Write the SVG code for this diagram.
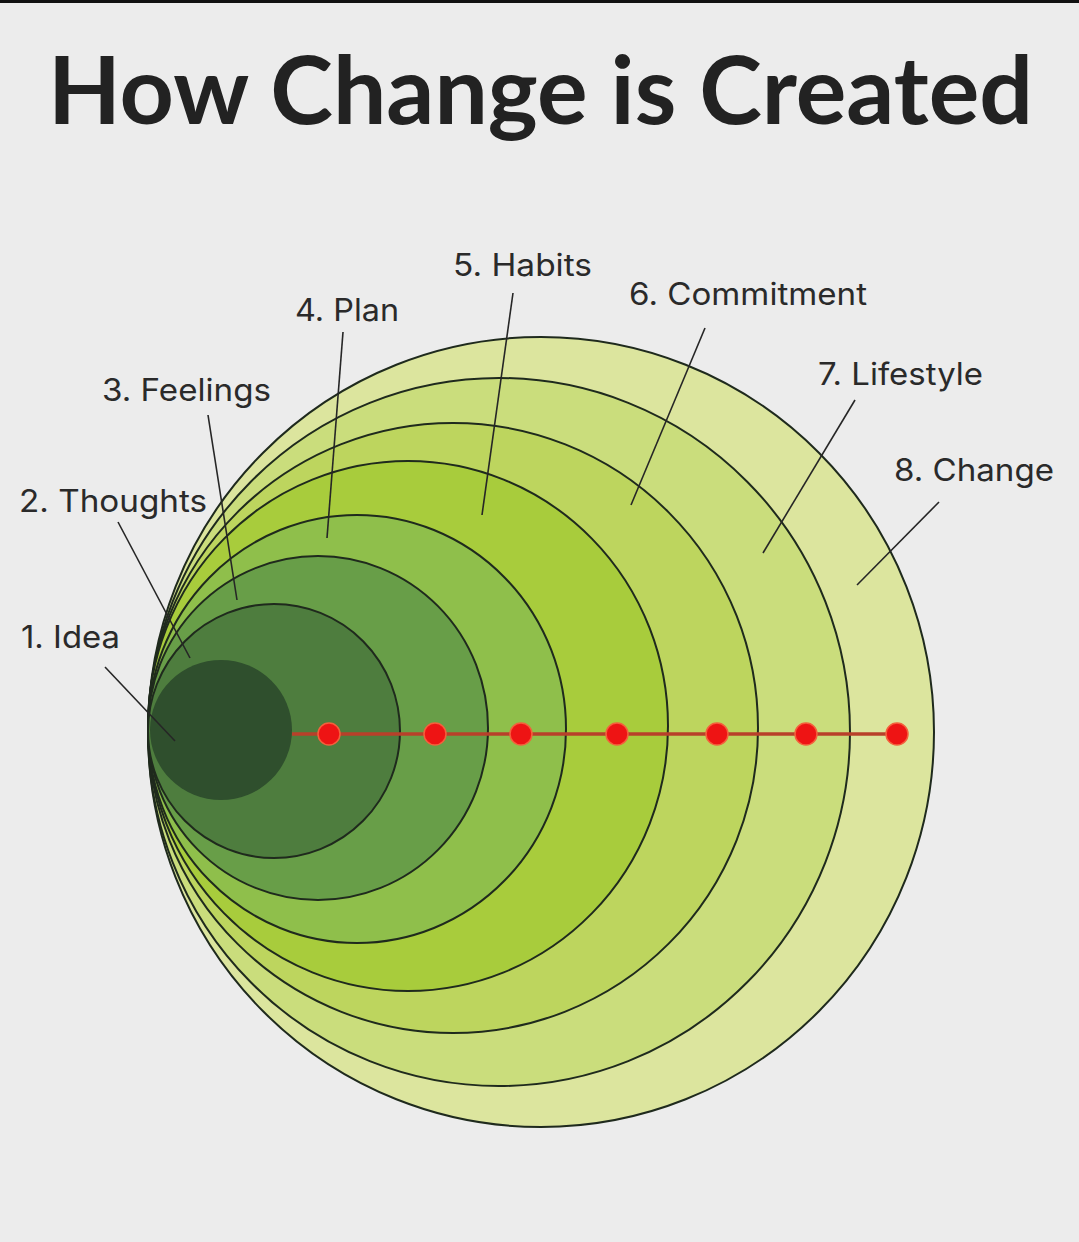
<svg xmlns="http://www.w3.org/2000/svg" width="1079" height="1242" viewBox="0 0 1079 1242">
  <style>
    .ring { stroke: #1f2a1d; stroke-width: 2; }
    .lbl { font-family: Inter, "Liberation Sans", sans-serif; font-size: 31px; fill: #2a2a2a; }
    .title { font-family: Lato, "Open Sans", "Liberation Sans", sans-serif; font-weight: 700; font-size: 94px; fill: #222222; }
    .leader { stroke: #262626; stroke-width: 1.6; fill: none; }
    .dot { fill: #ee1414; stroke: #f4603c; stroke-width: 1.5; }
  </style>
  <rect x="0" y="0" width="1079" height="1242" fill="#ececec"/>
  <rect x="0" y="0" width="1079" height="3" fill="#111111"/>
  <text class="title" x="48" y="124" textLength="985" lengthAdjust="spacingAndGlyphs">How Change is Created</text>

  <g id="node-8-change"><ellipse class="ring" cx="541" cy="732" rx="393" ry="395" fill="#dce59e"/></g>
  <g id="node-7-lifestyle"><ellipse class="ring" cx="499" cy="732" rx="351" ry="354" fill="#cadd7c"/></g>
  <g id="node-6-commitment"><ellipse class="ring" cx="453" cy="728" rx="305" ry="305" fill="#bdd55e"/></g>
  <g id="node-5-habits"><ellipse class="ring" cx="408" cy="726" rx="260" ry="265" fill="#a8cc3c"/></g>
  <g id="node-4-plan"><ellipse class="ring" cx="357" cy="729" rx="209" ry="214" fill="#8fbf4b"/></g>
  <g id="node-3-feelings"><ellipse class="ring" cx="318" cy="728" rx="170" ry="172" fill="#689e48"/></g>
  <g id="node-2-thoughts"><ellipse class="ring" cx="274" cy="731" rx="126" ry="127" fill="#4e7d3e"/></g>
  <g id="node-1-idea"><ellipse cx="221" cy="730" rx="71" ry="70" fill="#2f4f2d"/></g>

  <g id="connectors">
    <line x1="292" y1="734" x2="897" y2="734" stroke="#b8402a" stroke-width="3.5"/>
    <line class="leader" x1="105" y1="667" x2="175" y2="741"/>
    <line class="leader" x1="118" y1="522" x2="190" y2="658"/>
    <line class="leader" x1="208" y1="415" x2="237" y2="600"/>
    <line class="leader" x1="343" y1="332" x2="327" y2="538"/>
    <line class="leader" x1="513" y1="293" x2="482" y2="515"/>
    <line class="leader" x1="705" y1="328" x2="631" y2="505"/>
    <line class="leader" x1="855" y1="400" x2="763" y2="553"/>
    <line class="leader" x1="939" y1="502" x2="857" y2="585"/>
  </g>

  <g id="dots">
    <circle class="dot" cx="329" cy="734" r="11"/>
    <circle class="dot" cx="435" cy="734" r="11"/>
    <circle class="dot" cx="521" cy="734" r="11"/>
    <circle class="dot" cx="617" cy="734" r="11"/>
    <circle class="dot" cx="717" cy="734" r="11"/>
    <circle class="dot" cx="806" cy="734" r="11"/>
    <circle class="dot" cx="897" cy="734" r="11"/>
  </g>

  <g id="labels">
    <text class="lbl" x="21" y="648" textLength="99" lengthAdjust="spacingAndGlyphs">1. Idea</text>
    <text class="lbl" x="19" y="512" textLength="188" lengthAdjust="spacingAndGlyphs">2. Thoughts</text>
    <text class="lbl" x="102" y="401" textLength="169" lengthAdjust="spacingAndGlyphs">3. Feelings</text>
    <text class="lbl" x="295" y="321" textLength="104" lengthAdjust="spacingAndGlyphs">4. Plan</text>
    <text class="lbl" x="453" y="276" textLength="139" lengthAdjust="spacingAndGlyphs">5. Habits</text>
    <text class="lbl" x="629" y="305" textLength="238" lengthAdjust="spacingAndGlyphs">6. Commitment</text>
    <text class="lbl" x="818" y="385" textLength="165" lengthAdjust="spacingAndGlyphs">7. Lifestyle</text>
    <text class="lbl" x="894" y="481" textLength="160" lengthAdjust="spacingAndGlyphs">8. Change</text>
  </g>
</svg>
